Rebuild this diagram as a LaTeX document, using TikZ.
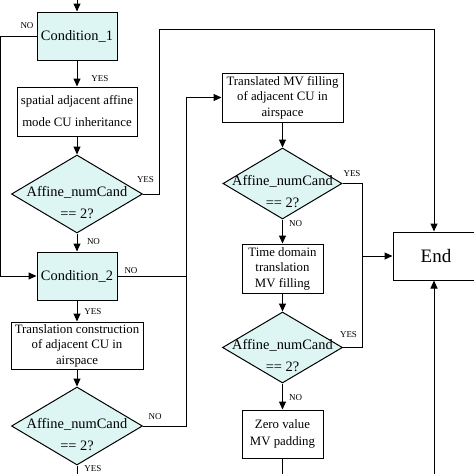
\documentclass[tikz,border=0pt]{standalone}
\usepackage{fontspec}
\setmainfont{Liberation Serif}
\usetikzlibrary{shapes.geometric,arrows.meta}
\definecolor{cyanfill}{RGB}{221,246,243}
\tikzset{
  box/.style={draw, line width=1pt, rectangle, inner sep=0pt, align=center},
  condbox/.style={box, fill=cyanfill, font=\fontsize{14.4}{17}\selectfont},
  procbox/.style={box, fill=white, font=\fontsize{12.8}{15.5}\selectfont},
  decision/.style={draw, line width=1pt, shape=diamond, fill=cyanfill, inner sep=0pt},
  dtext/.style={font=\fontsize{14.4}{17}\selectfont, inner sep=0pt},
  lbl/.style={font=\fontsize{9}{10}\selectfont, inner sep=0pt},
  conn/.style={line width=1pt},
  arr/.style={line width=1pt, -{Triangle[length=8pt,width=7pt]}},
}
\begin{document}
\begin{tikzpicture}[x=1pt,y=-1pt]
\useasboundingbox (0,0) rectangle (474,474);
% left column
\node[condbox, minimum width=80pt, minimum height=48pt] (c1) at (77,36) {Condition\_1};
\node[procbox, minimum width=120pt, minimum height=49pt, font=\fontsize{12.8}{22}\selectfont] (sp) at (77,111.5) {spatial adjacent affine\\mode CU inheritance};
\node[decision, minimum width=131pt, minimum height=78pt] (d1) at (77,194) {};
\node[dtext] (d1a) at (77,192) {Affine\_numCand};
\node[dtext] (d1b) at (77,214) {== 2?};
\node[condbox, minimum width=80pt, minimum height=48pt] (c2) at (77,276) {Condition\_2};
\node[procbox, minimum width=132pt, minimum height=47pt] (tr) at (77,345.5) {Translation construction\\of adjacent CU in\\airspace};
\node[decision, minimum width=131pt, minimum height=78pt] (d3) at (77,426) {};
\node[dtext] (d3a) at (77,424) {Affine\_numCand};
\node[dtext] (d3b) at (77,446) {== 2?};
% middle column
\node[procbox, minimum width=121pt, minimum height=49pt] (tm) at (282.5,97.5) {Translated MV filling\\of adjacent CU in\\airspace};
\node[decision, minimum width=119pt, minimum height=71pt] (d2a) at (282.5,183.5) {};
\node[dtext] (d2aa) at (282.5,181.5) {Affine\_numCand};
\node[dtext] (d2ab) at (282.5,202.5) {== 2?};
\node[procbox, minimum width=81pt, minimum height=49pt] (td) at (282.5,268.5) {Time domain\\translation\\MV filling};
\node[decision, minimum width=120pt, minimum height=71pt] (d2b) at (282.5,347.5) {};
\node[dtext] (d2ba) at (282.5,345.5) {Affine\_numCand};
\node[dtext] (d2bb) at (282.5,366.5) {== 2?};
\node[procbox, minimum width=81pt, minimum height=48pt, font=\fontsize{12.8}{16.5}\selectfont] (zv) at (282.5,434) {Zero value\\MV padding};
% end
\node[box, minimum width=86pt, minimum height=48pt, font=\fontsize{19}{22}\selectfont] (end) at (436,256) {End};
% free ends
\coordinate (top) at (77,0);
\coordinate (lt) at (0.3,36);
\coordinate (lb) at (0.3,276);
\coordinate (d1r) at (159,194);
\coordinate (d1t) at (159,29);
\coordinate (et) at (434,29);
\coordinate (j2) at (186,276);
\coordinate (d3r) at (186,426);
\coordinate (tmin) at (186,97.5);
\coordinate (d3bot) at (77,474);
\coordinate (v2a) at (362,183.5);
\coordinate (v2b) at (362,347.5);
\coordinate (v2m) at (362,256);
\coordinate (zvbot) at (282.5,474);
\coordinate (eb) at (434,474);
% connectors
\draw[arr] (top) -- (c1.north);
\draw[arr] (c1.west) -- (lt) -- (lb) -- (c2.west);
\draw[arr] (c1.south) -- (sp.north);
\draw[arr] (sp.south) -- (d1.north);
\draw[arr] (d1.east) -- (d1r) -- (d1t) -- (et) -- (end.north -| et);
\draw[arr] (d1.south) -- (c2.north);
\draw[conn] (c2.east) -- (j2);
\draw[arr] (c2.south) -- (tr.north);
\draw[arr] (tr.south) -- (d3.north);
\draw[arr] (d3.east) -- (d3r) -- (tmin) -- (tm.west);
\draw[conn] (d3.south) -- (d3bot);
\draw[arr] (tm.south) -- (d2a.north);
\draw[conn] (d2a.east) -- (v2a) -- (v2b) -- (d2b.east);
\draw[arr] (v2m) -- (end.west);
\draw[arr] (d2a.south) -- (td.north);
\draw[arr] (td.south) -- (d2b.north);
\draw[arr] (d2b.south) -- (zv.north);
\draw[conn] (zv.south) -- (zvbot);
\draw[arr] (eb) -- (end.south -| eb);
% labels
\node[lbl] (l1) at (27,26) {NO};
\node[lbl] (l2) at (100,78.5) {YES};
\node[lbl] (l3) at (145.5,180) {YES};
\node[lbl] (l4) at (93.5,241.5) {NO};
\node[lbl] (l5) at (131,271) {NO};
\node[lbl] (l6) at (93,312) {YES};
\node[lbl] (l7) at (155,417) {NO};
\node[lbl] (l8) at (93,469) {YES};
\node[lbl] (l9) at (352,174) {YES};
\node[lbl] (l10) at (295.5,223.5) {NO};
\node[lbl] (l11) at (348.5,335) {YES};
\node[lbl] (l12) at (295.5,398) {NO};
\end{tikzpicture}
\end{document}
